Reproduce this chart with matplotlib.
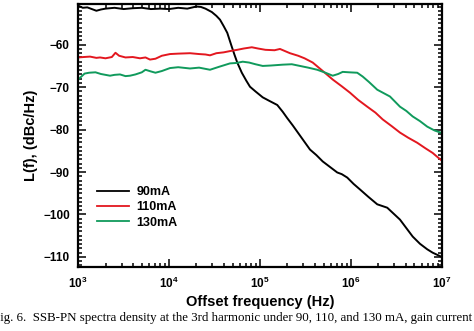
import numpy as np
import matplotlib
matplotlib.use("Agg")
import matplotlib.pyplot as plt
from matplotlib.ticker import MultipleLocator, FixedLocator, FixedFormatter, NullFormatter

plt.rcParams['font.family'] = ['Liberation Sans', 'DejaVu Sans']
plt.rcParams['mathtext.fontset'] = 'custom'
plt.rcParams['mathtext.bf'] = 'Liberation Sans:bold'

# log10 of offset frequency (Hz) and L(f) in dBc/Hz
logf_90 = [3.00, 3.05, 3.10, 3.15, 3.20, 3.25, 3.30, 3.40, 3.50, 3.60, 3.70, 3.80,
           3.90, 4.00, 4.10, 4.20, 4.30, 4.35, 4.40, 4.47, 4.52, 4.56, 4.60, 4.64,
           4.69, 4.72, 4.75, 4.80, 4.85, 4.89, 4.95, 5.03, 5.10, 5.19, 5.25, 5.30,
           5.36, 5.41, 5.48, 5.55, 5.62, 5.69, 5.77, 5.85, 5.90, 5.96, 6.03, 6.10,
           6.19, 6.29, 6.40, 6.47, 6.54, 6.61, 6.68, 6.76, 6.84, 6.90, 6.95, 7.00]
pn_90 = [-50.8, -51.3, -51.2, -51.6, -52.0, -51.7, -51.5, -51.3, -51.6, -51.4, -51.3, -51.6,
         -51.5, -51.6, -51.3, -51.5, -51.0, -51.1, -51.5, -52.3, -53.2, -54.1, -55.6, -57.2,
         -60.5, -62.4, -64.2, -66.6, -68.5, -69.9, -71.0, -72.4, -73.2, -74.2, -75.8, -77.3,
         -79.0, -80.5, -82.6, -84.7, -86.0, -87.5, -88.8, -90.1, -90.5, -91.3, -92.8, -94.1,
         -95.8, -97.6, -98.4, -99.8, -101.2, -103.2, -105.2, -106.9, -108.2, -109.0, -109.5, -110.0]

logf_110 = [3.00, 3.06, 3.13, 3.20, 3.24, 3.30, 3.37, 3.41, 3.45, 3.52, 3.60, 3.68,
            3.74, 3.79, 3.85, 3.92, 4.01, 4.10, 4.23, 4.33, 4.40, 4.45, 4.52, 4.60,
            4.67, 4.75, 4.82, 4.91, 4.98, 5.06, 5.16, 5.22, 5.33, 5.42, 5.49, 5.58,
            5.68, 5.80, 5.90, 5.99, 6.08, 6.18, 6.27, 6.35, 6.45, 6.54, 6.63, 6.73,
            6.82, 6.90, 6.96, 7.00]
pn_110 = [-63.0, -62.9, -62.8, -63.1, -63.0, -63.2, -62.9, -61.9, -62.6, -63.0, -62.9, -63.2,
          -63.0, -63.5, -63.3, -62.6, -62.2, -62.1, -62.0, -62.2, -62.3, -62.5, -62.0, -61.8,
          -61.5, -61.2, -60.9, -60.6, -60.9, -61.2, -61.3, -61.0, -62.0, -62.6, -63.2, -64.2,
          -66.0, -68.2, -69.8, -71.3, -73.0, -74.6, -76.0, -77.6, -79.2, -80.7, -81.9, -83.1,
          -84.4, -85.5, -86.6, -87.3]

logf_130 = [3.00, 3.03, 3.07, 3.12, 3.19, 3.25, 3.30, 3.35, 3.40, 3.46, 3.52, 3.57,
            3.63, 3.70, 3.74, 3.80, 3.85, 3.92, 4.01, 4.10, 4.23, 4.33, 4.45, 4.55,
            4.67, 4.74, 4.81, 4.88, 4.95, 5.03, 5.12, 5.25, 5.35, 5.44, 5.53, 5.63,
            5.72, 5.80, 5.86, 5.91, 5.98, 6.07, 6.13, 6.20, 6.29, 6.36, 6.43, 6.54,
            6.61, 6.68, 6.76, 6.84, 6.92, 7.00]
pn_130 = [-68.2, -67.6, -66.8, -66.6, -66.5, -66.9, -67.1, -67.3, -67.1, -67.0, -67.4, -67.3,
          -67.0, -66.5, -65.9, -66.3, -66.6, -66.2, -65.5, -65.3, -65.6, -65.4, -65.9, -65.2,
          -64.4, -64.3, -64.0, -64.2, -64.6, -65.0, -64.9, -64.7, -64.6, -65.0, -65.4, -65.9,
          -66.6, -67.3, -66.9, -66.4, -66.5, -66.6, -67.5, -68.8, -70.6, -71.4, -72.2, -74.6,
          -75.6, -76.9, -78.0, -79.3, -80.2, -80.8]

series = [("90mA", logf_90, pn_90, "black"),
          ("110mA", logf_110, pn_110, "#e3171f"),
          ("130mA", logf_130, pn_130, "#109a5c")]

xtick_pos = [1e3, 1e4, 1e5, 1e6, 1e7]
xtick_labels = [r"$\mathbf{10^{3}}$", r"$\mathbf{10^{4}}$", r"$\mathbf{10^{5}}$",
                r"$\mathbf{10^{6}}$", r"$\mathbf{10^{7}}$"]

caption = ("Fig. 6.  SSB-PN spectra density at the 3rd harmonic under 90, 110, "
           "and 130 mA, gain current")

fig = plt.figure(figsize=(4.74, 3.31), dpi=100)
ax = fig.add_axes([0.165, 0.193, 0.767, 0.795])

for name, lf, pn, col in series:
    ax.plot(10 ** np.array(lf), pn, color=col, lw=1.4, label=name)

ax.set_xscale("log")
ax.set_xlim(1e3, 1e7)
ax.set_ylim(-112.4, -50.4)

ax.xaxis.set_major_locator(FixedLocator(xtick_pos))
ax.xaxis.set_major_formatter(FixedFormatter(xtick_labels))
ax.xaxis.set_minor_formatter(NullFormatter())
ax.yaxis.set_major_locator(MultipleLocator(10))
ax.yaxis.set_minor_locator(MultipleLocator(1))

ax.tick_params(which="both", direction="in", top=True, right=True, width=1.1)
ax.tick_params(which="major", length=6, labelsize=8.5, pad=6)
ax.tick_params(which="minor", length=3)
for lab in ax.get_yticklabels():
    lab.set_fontweight("bold")
for sp in ax.spines.values():
    sp.set_linewidth(1.6)

ax.set_xlabel("Offset frequency (Hz)", fontsize=10.5, fontweight="bold", labelpad=3)
ax.set_ylabel("L(f), (dBc/Hz)", fontsize=10.5, fontweight="bold", labelpad=4)

leg = ax.legend(loc="upper left", bbox_to_anchor=(0.02, 0.35), frameon=False,
                prop={"weight": "bold", "size": 9}, handlelength=2.6,
                handletextpad=0.6, labelspacing=0.25)
for h in leg.get_lines():
    h.set_linewidth(1.3)

fig.text(-0.015, 0.03, caption, fontsize=9.3, family="Liberation Serif", ha="left")

fig.savefig("out.png", dpi=100)
